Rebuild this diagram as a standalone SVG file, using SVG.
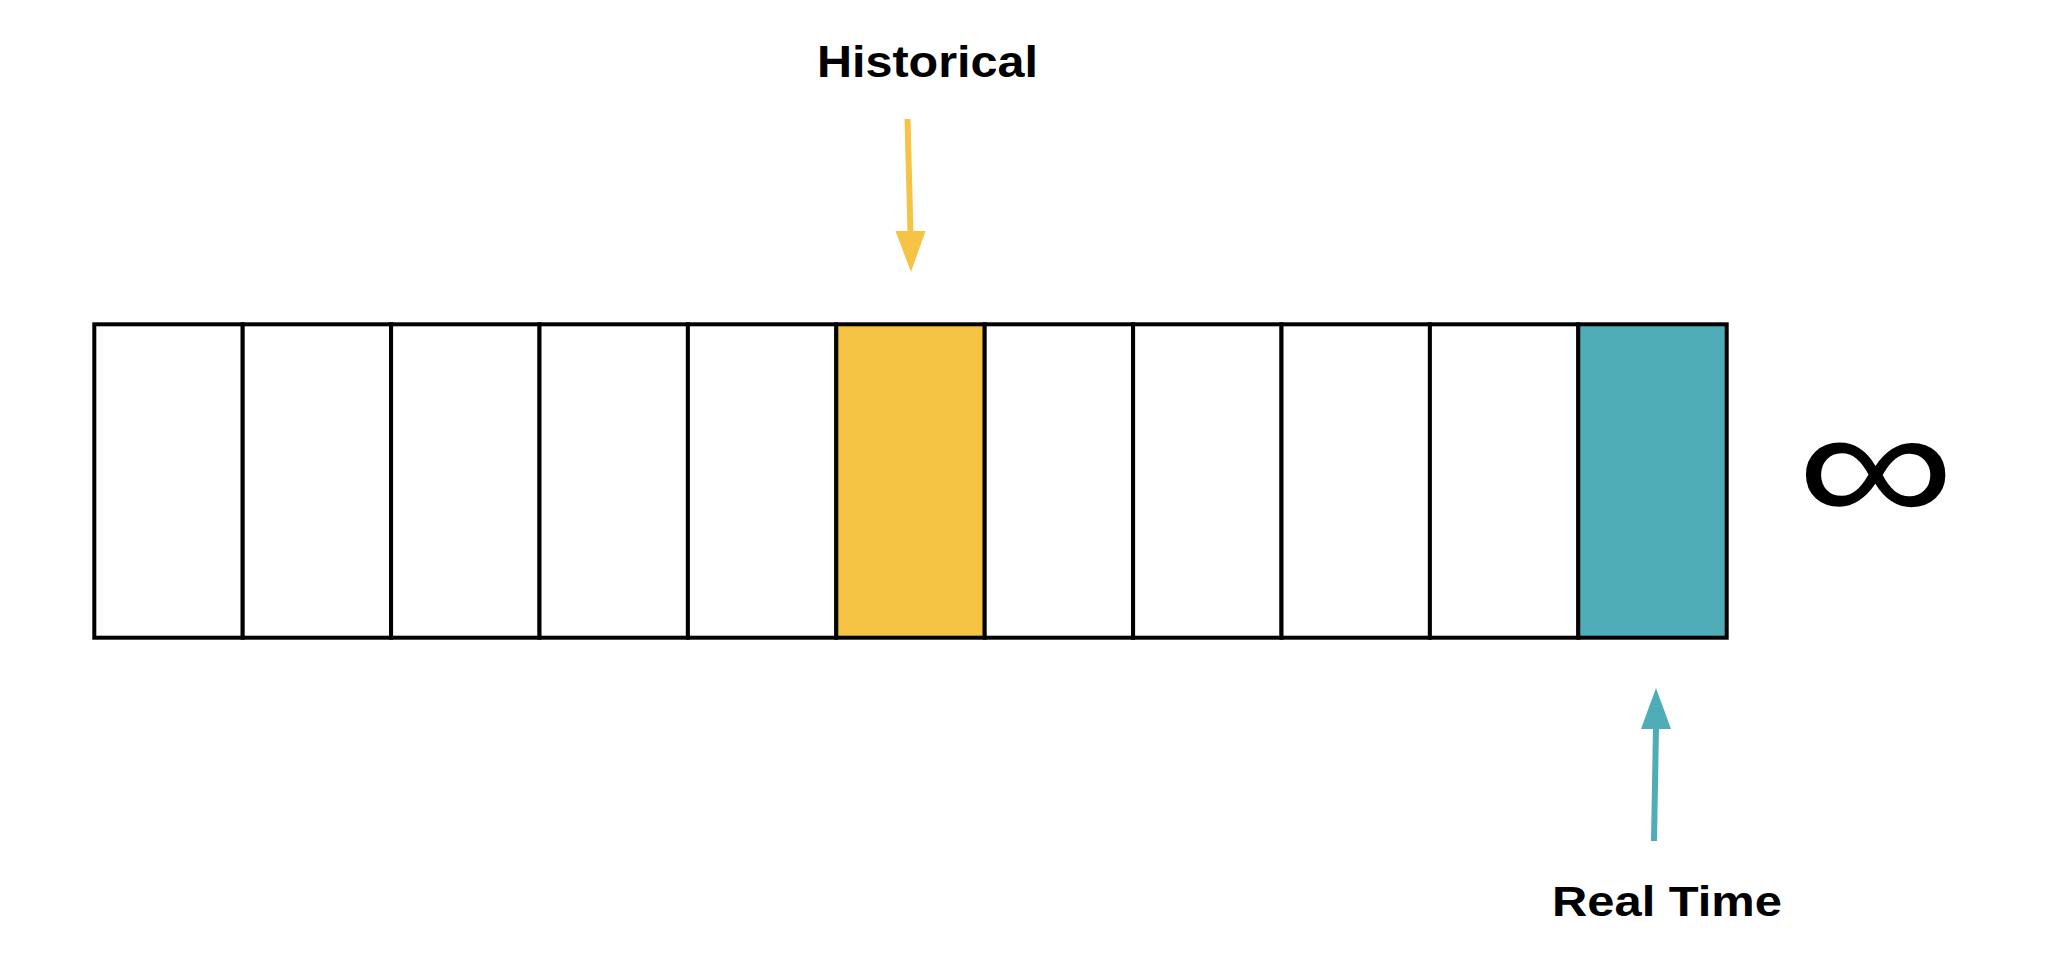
<svg xmlns="http://www.w3.org/2000/svg" width="2048" height="953" viewBox="0 0 2048 953">
  <style>
    .cell { fill: #ffffff; stroke: #000000; stroke-width: 4; }
    .lbl { font-family: "Liberation Sans", Arial, sans-serif; font-weight: bold; fill: #000000; }
  </style>
  <rect x="0" y="0" width="2048" height="953" fill="#ffffff"/>
  <g id="strip">
    <rect class="cell" x="94.3" y="324.3" width="148.4" height="313.4"/>
    <rect class="cell" x="242.7" y="324.3" width="148.4" height="313.4"/>
    <rect class="cell" x="391.1" y="324.3" width="148.4" height="313.4"/>
    <rect class="cell" x="539.5" y="324.3" width="148.4" height="313.4"/>
    <rect class="cell" x="687.9" y="324.3" width="148.4" height="313.4"/>
    <rect class="cell" x="836.3" y="324.3" width="148.4" height="313.4" style="fill:#F5C445"/>
    <rect class="cell" x="984.7" y="324.3" width="148.4" height="313.4"/>
    <rect class="cell" x="1133.1" y="324.3" width="148.4" height="313.4"/>
    <rect class="cell" x="1281.5" y="324.3" width="148.4" height="313.4"/>
    <rect class="cell" x="1429.9" y="324.3" width="148.4" height="313.4"/>
    <rect class="cell" x="1578.3" y="324.3" width="148.4" height="313.4" style="fill:#4FADB8"/>
  </g>
  <g id="connectors">
    <line x1="907.5" y1="119" x2="910.5" y2="233" stroke="#F5C445" stroke-width="6"/>
    <polygon points="895.5,231 925.5,231 911,272" fill="#F5C445"/>
    <line x1="1656" y1="727" x2="1654" y2="841" stroke="#4FADB8" stroke-width="6"/>
    <polygon points="1641,729 1671,729 1656,688" fill="#4FADB8"/>
  </g>
  <g id="historical-label">
    <text class="lbl" x="817" y="77" font-size="44" textLength="221" lengthAdjust="spacingAndGlyphs">Historical</text>
  </g>
  <g id="realtime-label">
    <text class="lbl" x="1552" y="916" font-size="43" textLength="230" lengthAdjust="spacingAndGlyphs">Real Time</text>
  </g>
  <g id="infinity">
    <text transform="translate(1875.5,524) scale(1.11,0.85)" x="0" y="0" font-family="Liberation Sans, Arial, sans-serif" font-size="200" text-anchor="middle" fill="#000000">∞</text>
  </g>
</svg>
